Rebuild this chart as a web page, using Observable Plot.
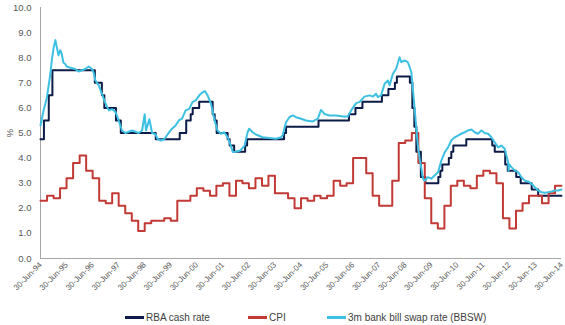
<!DOCTYPE html>
<html>
<head>
<meta charset="utf-8">
<script src="https://cdn.jsdelivr.net/npm/d3@7"></script>
<script src="https://cdn.jsdelivr.net/npm/@observablehq/plot@0.6"></script>
<style>
  body { margin: 0; background: #fff; font-family: "Liberation Sans", Arial, sans-serif; }
  #wrap { position: relative; width: 565px; height: 325px; }
  #legend { position: absolute; left: 0; top: 300px; width: 565px; height: 25px; font-size: 10px; color: #404040; }
  .item { position: absolute; top: 11px; display: flex; align-items: center; height: 12px; }
  .sw { display: inline-block; width: 19px; height: 3px; margin-right: 2px; }
</style>
</head>
<body>
<div id="wrap">
  <div id="chart"></div>
  <div id="legend"></div>
</div>
<script>
// ---- Data ----
const tickLabels = ["30-Jun-94","30-Jun-95","30-Jun-96","30-Jun-97","30-Jun-98","30-Jun-99","30-Jun-00",
  "30-Jun-01","30-Jun-02","30-Jun-03","30-Jun-04","30-Jun-05","30-Jun-06","30-Jun-07","30-Jun-08",
  "30-Jun-09","30-Jun-10","30-Jun-11","30-Jun-12","30-Jun-13","30-Jun-14"];
const yTicks = [0,1,2,3,4,5,6,7,8,9,10];

const seriesNames = ["RBA cash rate", "CPI", "3m bank bill swap rate (BBSW)"];
const seriesColors = ["#0c1b47", "#c23a35", "#3ec0e2"];

// RBA cash rate (step changes)
const cashDates = ["1994-06-30","1994-08-17","1994-10-24","1994-12-14","1996-07-31","1996-11-06","1996-12-11",
  "1997-05-23","1997-07-30","1998-12-02","1999-11-03","2000-02-02","2000-04-05","2000-05-03","2000-08-02",
  "2001-02-07","2001-03-07","2001-04-04","2001-09-05","2001-10-03","2001-12-05","2002-05-08","2002-06-05",
  "2003-11-05","2003-12-03","2005-03-02","2006-05-03","2006-08-02","2006-11-08","2007-08-08","2007-11-07",
  "2008-02-06","2008-03-05","2008-09-03","2008-10-08","2008-11-05","2008-12-03","2009-02-04","2009-04-08",
  "2009-10-07","2009-11-04","2009-12-02","2010-03-03","2010-04-07","2010-05-05","2010-11-03","2011-11-02",
  "2011-12-07","2012-05-02","2012-06-06","2012-10-03","2012-12-05","2013-05-08","2013-08-07","2014-06-30"];
const cashRate = [4.75,5.5,6.5,7.5,7.0,6.5,6.0,
  5.5,5.0,4.75,5.0,5.5,5.75,6.0,6.25,
  5.75,5.5,5.0,4.75,4.5,4.25,4.5,4.75,
  5.0,5.25,5.5,5.75,6.0,6.25,6.5,6.75,
  7.0,7.25,7.0,6.0,5.25,4.25,3.25,3.0,
  3.25,3.5,3.75,4.0,4.25,4.5,4.75,4.5,
  4.25,3.75,3.5,3.25,3.0,2.75,2.5,2.5];

// CPI, annual % change (quarterly)
const cpiDates = ["1994-06-30","1994-09-30","1994-12-31","1995-03-31","1995-06-30","1995-09-30","1995-12-31",
  "1996-03-31","1996-06-30","1996-09-30","1996-12-31","1997-03-31","1997-06-30","1997-09-30","1997-12-31",
  "1998-03-31","1998-06-30","1998-09-30","1998-12-31","1999-03-31","1999-06-30","1999-09-30","1999-12-31",
  "2000-03-31","2000-06-30","2000-09-30","2000-12-31","2001-03-31","2001-06-30","2001-09-30","2001-12-31",
  "2002-03-31","2002-06-30","2002-09-30","2002-12-31","2003-03-31","2003-06-30","2003-09-30","2003-12-31",
  "2004-03-31","2004-06-30","2004-09-30","2004-12-31","2005-03-31","2005-06-30","2005-09-30","2005-12-31",
  "2006-03-31","2006-06-30","2006-09-30","2006-12-31","2007-03-31","2007-06-30","2007-09-30","2007-12-31",
  "2008-03-31","2008-06-30","2008-09-30","2008-12-31","2009-03-31","2009-06-30","2009-09-30","2009-12-31",
  "2010-03-31","2010-06-30","2010-09-30","2010-12-31","2011-03-31","2011-06-30","2011-09-30","2011-12-31",
  "2012-03-31","2012-06-30","2012-09-30","2012-12-31","2013-03-31","2013-06-30","2013-09-30","2013-12-31",
  "2014-03-31","2014-06-30"];
const cpiValues = [2.3,2.5,2.4,2.8,3.2,3.8,4.1,
  3.5,3.2,2.3,2.2,2.6,2.1,1.8,1.5,
  1.1,1.4,1.5,1.5,1.6,1.5,2.3,2.3,
  2.5,2.8,2.7,2.5,2.9,3.0,2.5,3.1,
  3.0,2.8,3.2,2.9,3.3,2.6,2.6,2.4,
  2.0,2.4,2.3,2.5,2.4,2.5,3.1,2.9,
  3.0,4.0,4.0,3.4,2.5,2.1,2.1,3.1,
  4.6,4.7,5.0,3.8,2.4,1.4,1.2,2.1,
  2.9,3.1,2.9,2.8,3.3,3.5,3.4,3.0,
  1.6,1.2,1.9,2.2,2.5,2.5,2.2,2.6,
  2.9,2.9];

// 3m bank bill swap rate
const bbswDates = ["1994-06-30","1994-07-21","1994-08-12","1994-09-27","1994-11-15","1994-12-06","1994-12-31",
  "1995-01-25","1995-02-15","1995-03-09","1995-04-03","1995-04-24","1995-05-18","1995-06-12","1995-07-03",
  "1995-08-21","1995-10-31","1995-12-15","1996-02-03","1996-03-18","1996-05-06","1996-06-21","1996-07-15",
  "1996-08-06","1996-09-24","1996-11-09","1996-12-24","1997-02-12","1997-03-27","1997-05-15","1997-06-30",
  "1997-08-15","1997-10-03","1998-01-06","1998-04-06","1998-05-25","1998-06-30","1998-07-18","1998-09-03",
  "1998-10-12","1998-11-27","1998-12-31","1999-02-14","1999-03-31","1999-05-31","1999-07-18","1999-09-06",
  "1999-10-21","1999-12-06","2000-01-25","2000-03-15","2000-04-30","2000-06-15","2000-08-03","2000-09-18",
  "2000-10-21","2000-11-28","2001-01-15","2001-02-28","2001-04-15","2001-06-03","2001-07-18","2001-09-06",
  "2001-10-31","2001-11-15","2001-12-31","2002-02-28","2002-04-30","2002-06-12","2002-07-03","2002-08-21",
  "2002-10-06","2003-01-09","2003-04-12","2003-07-15","2003-09-24","2003-10-15","2003-12-03","2004-01-18",
  "2004-03-06","2004-04-21","2004-06-30","2004-09-09","2004-12-12","2005-02-21","2005-04-06","2005-05-24",
  "2005-08-03","2005-11-06","2006-02-06","2006-04-15","2006-06-03","2006-08-12","2006-09-27","2006-12-06",
  "2007-02-15","2007-04-03","2007-05-18","2007-06-12","2007-07-27","2007-09-15","2007-10-31","2007-11-24",
  "2008-01-09","2008-02-24","2008-04-12","2008-05-06","2008-06-21","2008-08-06","2008-08-31","2008-09-24",
  "2008-10-15","2008-11-09","2008-12-03","2008-12-24","2009-01-18","2009-02-12","2009-03-06","2009-03-27",
  "2009-05-15","2009-06-30","2009-08-15","2009-10-03","2009-11-18","2010-01-06","2010-02-21","2010-04-06",
  "2010-05-24","2010-07-09","2010-08-24","2010-10-12","2010-11-27","2011-01-15","2011-02-28","2011-04-15",
  "2011-06-03","2011-07-18","2011-09-06","2011-10-21","2011-12-06","2012-01-24","2012-03-09","2012-04-24",
  "2012-06-12","2012-06-18","2012-06-27","2012-07-27","2012-09-15","2012-10-31","2012-12-15","2013-02-03",
  "2013-03-18","2013-05-06","2013-06-21","2013-08-06","2013-09-24","2013-11-09","2013-12-24","2014-02-12",
  "2014-03-27","2014-05-15","2014-06-30"];
const bbswValues = [5.3,5.6,5.9,6.4,7.35,7.9,8.4,
  8.7,8.4,8.1,8.3,8.15,7.8,7.75,7.65,
  7.6,7.55,7.45,7.5,7.55,7.65,7.55,7.4,
  7.1,6.9,6.55,6.2,5.9,5.95,5.85,5.5,
  5.1,5.0,5.1,5.0,5.1,5.75,5.1,5.55,
  5.0,4.95,4.75,4.7,4.75,5.0,5.17,5.3,
  5.5,5.57,5.9,5.96,6.23,6.3,6.5,6.62,
  6.67,6.5,6.16,5.57,5.1,4.97,5.03,4.83,
  4.4,4.24,4.25,4.3,4.5,5.03,5.17,5.03,
  4.94,4.83,4.8,4.77,4.83,4.9,5.43,5.63,
  5.7,5.63,5.57,5.5,5.46,5.57,5.92,5.76,
  5.7,5.7,5.66,5.66,5.9,6.19,6.23,6.45,
  6.5,6.45,6.56,6.43,6.5,6.96,7.09,6.9,
  7.36,7.56,8.02,7.82,7.89,7.82,7.62,7.42,
  6.76,5.96,5.17,4.5,3.97,3.57,3.18,3.1,
  3.24,3.18,3.31,3.44,3.9,4.24,4.43,4.7,
  4.83,4.9,4.97,5.03,5.1,5.14,5.03,4.97,
  5.1,5.0,4.97,4.83,4.63,4.43,4.5,4.37,
  3.84,3.5,3.75,3.64,3.5,3.44,3.24,3.1,
  3.07,2.98,2.84,2.71,2.64,2.62,2.64,2.67,
  2.71,2.71,2.75];

// ---- Build tables ----
const parse = d3.utcParse("%Y-%m-%d");
const parseTick = d3.utcParse("%d-%b-%y");
const tickDates = tickLabels.map(parseTick);
const cash = cashDates.map((d, i) => ({date: parse(d), value: cashRate[i]}));
const cpi = cpiDates.map((d, i) => ({date: parse(d), value: cpiValues[i]}));
const bbsw = bbswDates.map((d, i) => ({date: parse(d), value: bbswValues[i]}));

const font = "'Liberation Sans', Arial, sans-serif";

const chart = Plot.plot({
  width: 565,
  height: 300,
  marginLeft: 40,
  marginRight: 4,
  marginTop: 7,
  marginBottom: 42,
  style: {fontFamily: font, background: "#fff", overflow: "visible"},
  x: {type: "utc", domain: [tickDates[0], tickDates[tickDates.length - 1]]},
  y: {domain: [0, 10]},
  marks: [
    Plot.ruleY([0], {stroke: "#a6a6a6", strokeWidth: 1}),
    Plot.ruleX([tickDates[0]], {stroke: "#a6a6a6", strokeWidth: 1}),
    Plot.axisX({
      ticks: tickDates, tickFormat: (d) => tickLabels[tickDates.findIndex(t => +t === +d)],
      tickRotate: -45, tickSize: 0, tickPadding: 5, fontSize: 8, fill: "#595959", label: null
    }),
    Plot.axisY({
      ticks: yTicks, tickFormat: d3.format(".1f"), tickSize: 0, tickPadding: 9,
      fontSize: 9.5, fill: "#595959", label: "%", labelAnchor: "center", labelArrow: "none",
      labelOffset: 34
    }),
    Plot.line(cash, {x: "date", y: "value", curve: "step-after", stroke: seriesColors[0], strokeWidth: 2}),
    Plot.line(cpi, {x: "date", y: "value", curve: "step-after", stroke: seriesColors[1], strokeWidth: 2}),
    Plot.line(bbsw, {x: "date", y: "value", stroke: seriesColors[2], strokeWidth: 2})
  ]
});
document.getElementById("chart").appendChild(chart);

// ---- Legend (HTML, below the SVG) ----
const legendLeft = [125, 248, 327];
const legend = document.getElementById("legend");
seriesNames.forEach((name, i) => {
  const item = document.createElement("div");
  item.className = "item";
  item.style.left = legendLeft[i] + "px";
  const sw = document.createElement("span");
  sw.className = "sw";
  sw.style.background = seriesColors[i];
  const tx = document.createElement("span");
  tx.textContent = name;
  item.appendChild(sw);
  item.appendChild(tx);
  legend.appendChild(item);
});
</script>
</body>
</html>
